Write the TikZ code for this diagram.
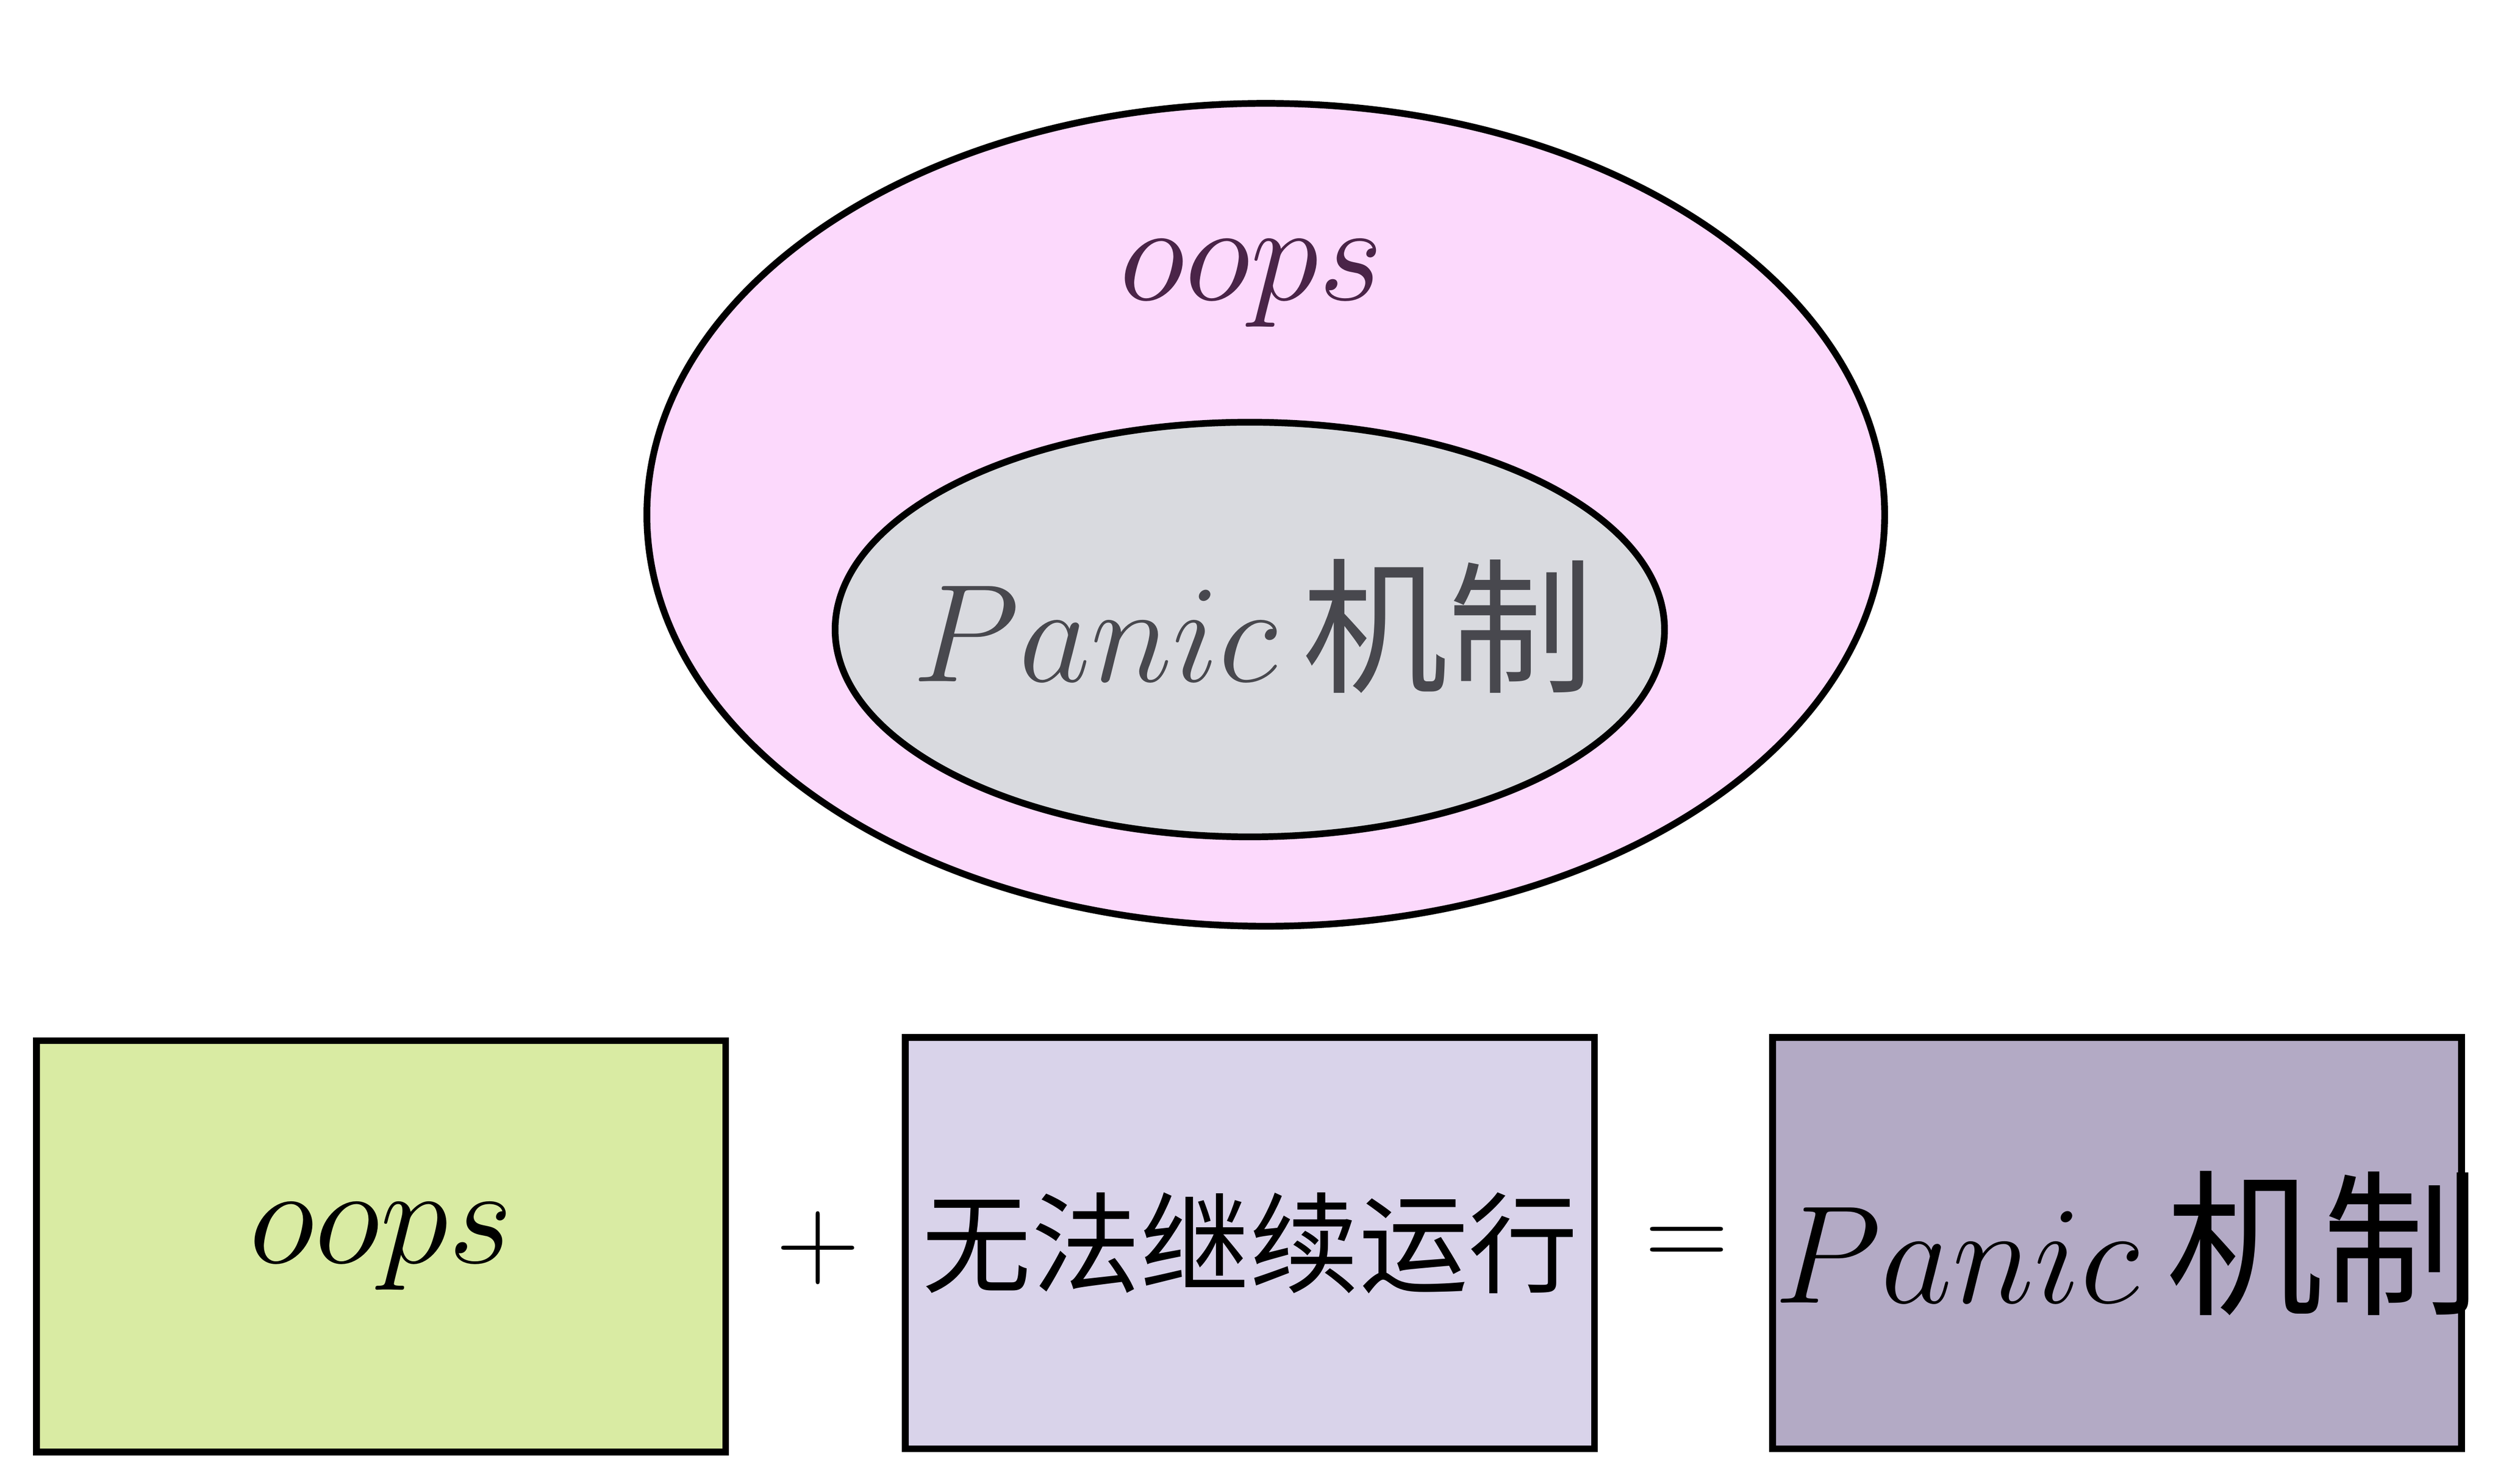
\documentclass[tikz,border=0pt]{standalone}
\usepackage{fontspec}
\usetikzlibrary{shapes.geometric}
\newfontfamily\cjk{Noto Sans CJK SC}
\definecolor{outerfill}{HTML}{FCD9FC}
\definecolor{innerfill}{HTML}{D9DADF}
\definecolor{oopstext}{HTML}{4A2448}
\definecolor{panictext}{HTML}{48484E}
\definecolor{boxa}{HTML}{D9EBA3}
\definecolor{boxb}{HTML}{D9D3EA}
\definecolor{boxc}{HTML}{B3AAC5}
\begin{document}
\begin{tikzpicture}[x=0.01cm,y=-0.01cm,
  edge/.style={draw=black,line width=1.2pt},
  bigbox/.style={edge,minimum width=4.32cm,minimum height=2.58cm,text width=4.3cm,align=center,inner sep=0pt,anchor=center}]
\useasboundingbox (0,0) rectangle (1567,931);
\node[edge,ellipse,fill=outerfill,minimum width=7.76cm,minimum height=5.16cm,inner sep=0pt] (outer) at (794,323) {};
\node[text=oopstext,font=\fontsize{30}{32}\selectfont] (oopsl) at (785,178) {$oops$};
\node[edge,ellipse,fill=innerfill,minimum width=5.2cm,minimum height=2.6cm,inner sep=0pt] (inner) at (784,395) {};
\node[text=panictext,font=\fontsize{26}{30}\selectfont] (panicl) at (786,393) {$Panic$\,\cjk 机制};
\node[bigbox,fill=boxa,font=\fontsize{31}{32}\selectfont] (a) at (239,782) {$oops$};
\node[font=\fontsize{22}{24}\selectfont] (plus) at (513,783) {$+$};
\node[bigbox,fill=boxb,font=\cjk\fontsize{19.5}{24}\selectfont] (b) at (784,780) {无法继续运行};
\node[font=\fontsize{22}{24}\selectfont] (eq) at (1058,783) {$=$};
\node[bigbox,fill=boxc,font=\fontsize{28}{32}\selectfont] (c) at (1328,780) {$Panic$\,\cjk 机制};
\end{tikzpicture}
\end{document}
